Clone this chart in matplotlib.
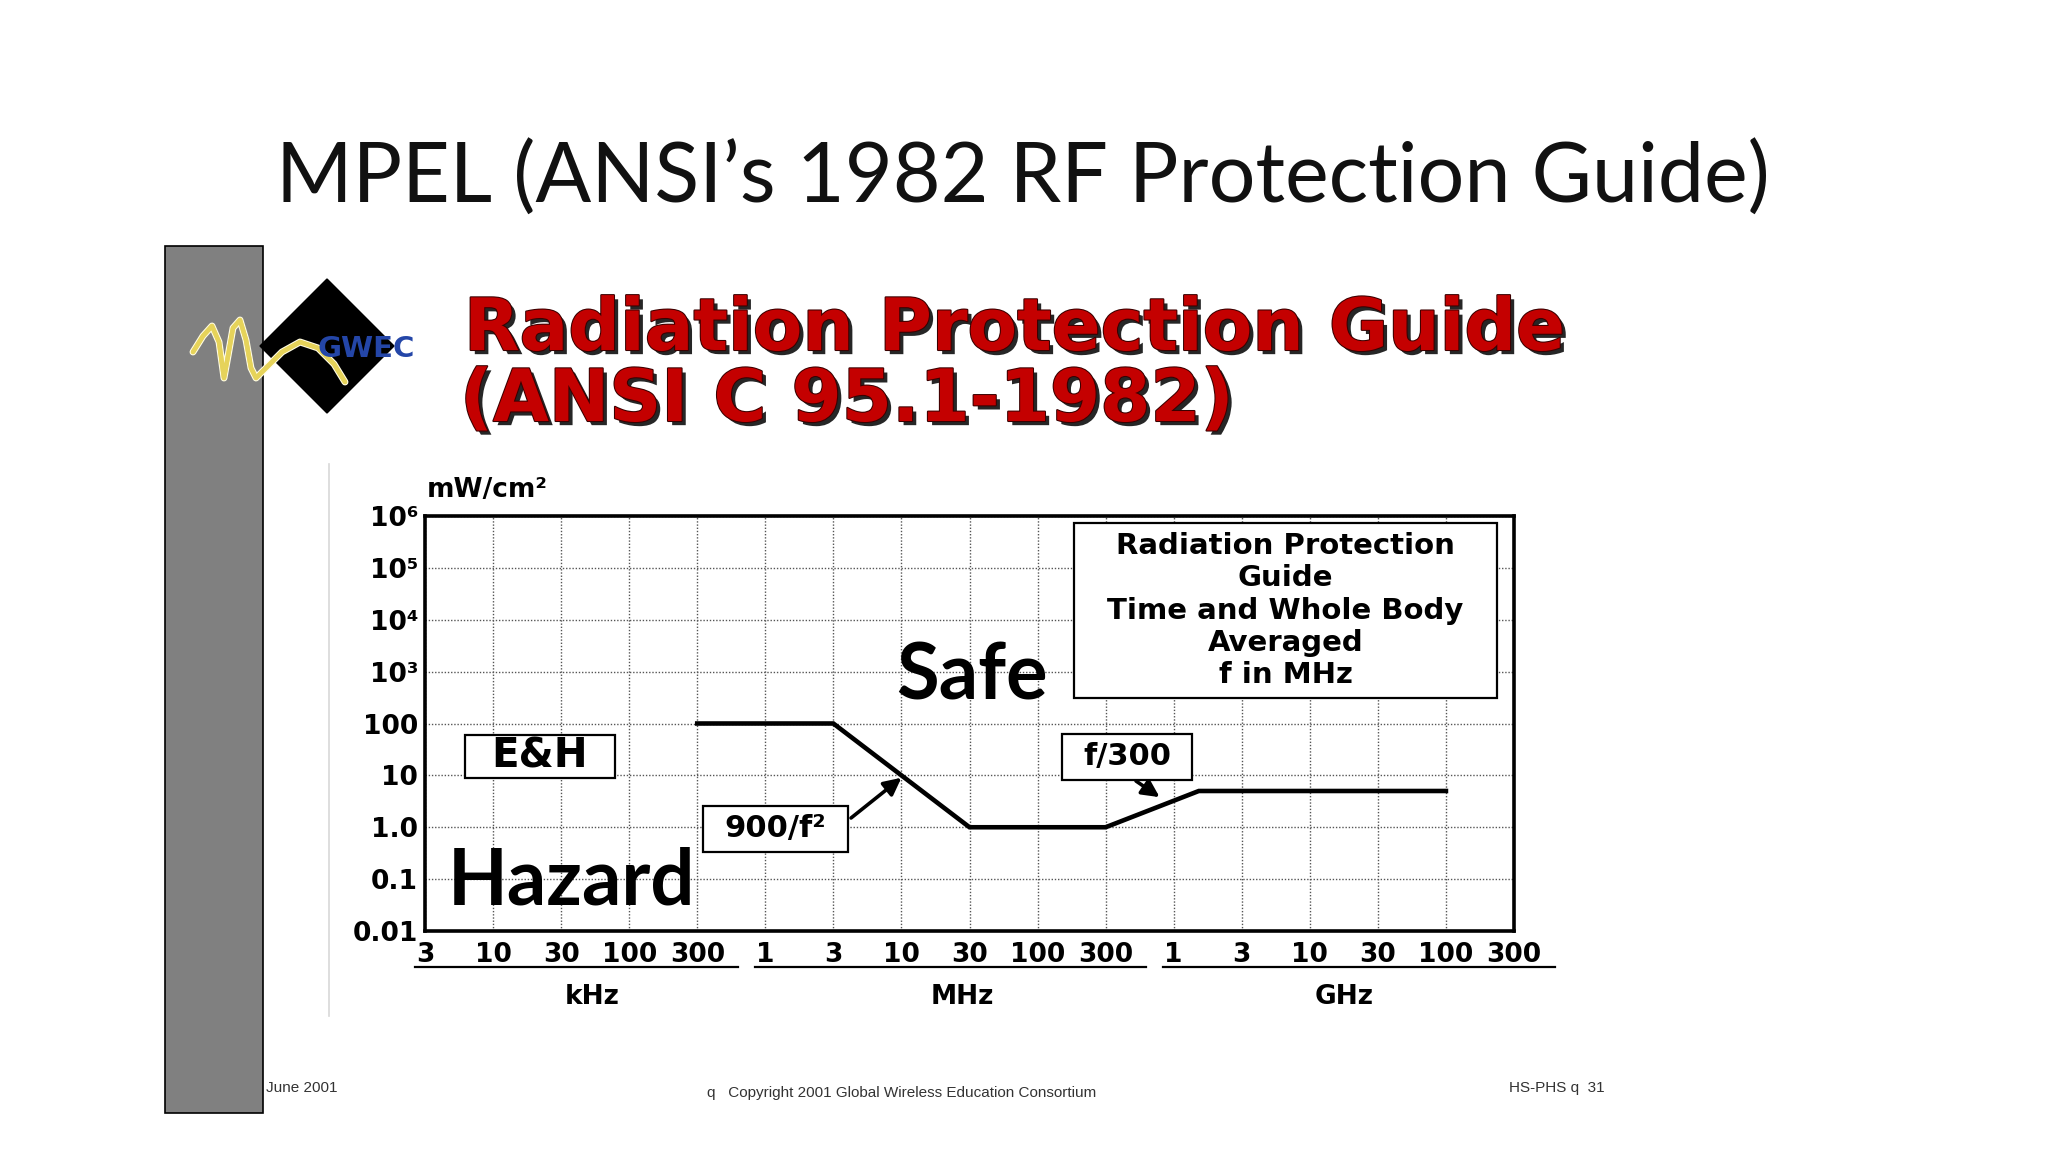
import numpy as np
import matplotlib.pyplot as plt
import matplotlib.patheffects as pe
from matplotlib.patches import Rectangle, Polygon

# DATA
tick_mhz = [0.003, 0.01, 0.03, 0.1, 0.3, 1, 3, 10, 30, 100, 300,
            1e3, 3e3, 1e4, 3e4, 1e5, 3e5]
tick_labels = ['3', '10', '30', '100', '300', '1', '3', '10', '30', '100', '300',
               '1', '3', '10', '30', '100', '300']
band_names = ['kHz', 'MHz', 'GHz']
band_first = [0, 5, 11]   # index of first tick in each band
band_last = [4, 10, 16]
# ANSI C95.1-1982 limit (f in MHz, power density in mW/cm2)
freq_mhz = [0.3, 3, 30, 300, 1500, 100000]
mpe_mw_cm2 = [100, 100, 1.0, 1.0, 5.0, 5.0]
y_ticks = [0.01, 0.1, 1, 10, 100, 1e3, 1e4, 1e5, 1e6]
y_labels = ['0.01', '0.1', '1.0', '10', '100', '10³', '10⁴', '10⁵', '10⁶']
legend_lines = ['Radiation Protection', 'Guide', 'Time and Whole Body',
                'Averaged', 'f in MHz']

W, H = 2048, 1152
def fx(px): return px / W
def fy(py): return 1 - py / H

# the chart spaces 3-10-30-100... evenly, so map log f onto tick index
logt = np.log10(tick_mhz)
idx = np.arange(len(tick_mhz), dtype=float)
ext_log = np.concatenate([[logt[0] - 2], logt, [logt[-1] + 2]])
ext_idx = np.concatenate([[-4], idx, [idx[-1] + 4]])
def fwd(f):
    return np.interp(np.log10(np.clip(np.asarray(f, float), 1e-12, None)), ext_log, ext_idx)
def inv(p):
    return 10 ** np.interp(np.asarray(p, float), ext_idx, ext_log)

BOLD = dict(family='DejaVu Sans', fontweight='bold')

fig = plt.figure(figsize=(20.48, 11.52), dpi=100)
fig.patch.set_facecolor('white')

# slide title
fig.text(0.4995, fy(203), 'MPEL (ANSI’s 1982 RF Protection Guide)', ha='center',
         va='baseline', fontsize=59.5, family='Lato', fontweight='normal', color='#111111')

# grey side bar
fig.patches.append(Rectangle((fx(165), fy(1113)), fx(263) - fx(165), fy(246) - fy(1113),
                             transform=fig.transFigure, facecolor='#808080',
                             edgecolor='black', lw=1.2))
# faint line left of chart
fig.add_artist(plt.Line2D([fx(329), fx(329)], [fy(464), fy(1016)], color='#d8d8d8', lw=1.2))

# logo
fig.patches.append(Polygon([(fx(327), fy(279)), (fx(394), fy(346)), (fx(327), fy(413)),
                            (fx(260), fy(346))], closed=True, transform=fig.transFigure,
                           facecolor='black', edgecolor='black'))
sq_x = [193, 203, 212, 219, 224, 228, 233, 240, 246, 251, 256, 266, 282, 300, 318, 334, 345]
sq_y = [352, 336, 326, 342, 378, 356, 328, 320, 340, 368, 378, 368, 352, 342, 348, 364, 382]
fig.add_artist(plt.Line2D([fx(v) for v in sq_x], [fy(v) for v in sq_y], color='#e6d35a',
                          lw=3.2, solid_capstyle='round',
                          path_effects=[pe.withStroke(linewidth=5, foreground='#fffbe0'), pe.Normal()]))
fig.text(fx(366), fy(349), 'GWEC', ha='center', va='center', fontsize=21,
         family='DejaVu Sans', fontweight='bold', color='#2446a8')

# red header
red_fx = [pe.withSimplePatchShadow(offset=(3, -3), shadow_rgbFace='black', alpha=0.85),
          pe.withStroke(linewidth=1.5, foreground='#3a0000')]
fig.text(fx(464), fy(350), 'Radiation Protection Guide', ha='left', va='baseline',
         fontsize=52, color='#c40000', path_effects=red_fx, **BOLD)
fig.text(fx(460), fy(421), '(ANSI C 95.1-1982)', ha='left', va='baseline',
         fontsize=52, color='#c40000', path_effects=red_fx, **BOLD)

# footer
foot = dict(fontsize=11, family='Liberation Sans', color='#333333', va='center')
fig.text(fx(266), fy(1088), 'June 2001', ha='left', **foot)
fig.text(fx(707), fy(1093), 'q   Copyright 2001 Global Wireless Education Consortium', ha='left', **foot)
fig.text(fx(1605), fy(1088), 'HS-PHS q  31', ha='right', **foot)

# chart
ax = fig.add_axes([fx(425), fy(931), fx(1514) - fx(425), fy(516) - fy(931)])
ax.set_xscale('function', functions=(fwd, inv))
ax.set_yscale('log')
ax.set_xlim(tick_mhz[0], tick_mhz[-1])
ax.set_ylim(y_ticks[0], y_ticks[-1])
ax.set_xticks(tick_mhz, tick_labels)
ax.set_yticks(y_ticks, y_labels)
ax.minorticks_off()
ax.tick_params(length=0, labelsize=19)
ax.tick_params(axis='x', pad=8)
ax.tick_params(axis='y', pad=5)
for lab in ax.get_xticklabels() + ax.get_yticklabels():
    lab.set_fontweight('bold')
ax.grid(True, ls=(0, (1, 1.3)), color='#555555', lw=1.0)
for s in ax.spines.values():
    s.set_linewidth(2.6)

ax.plot(freq_mhz, mpe_mw_cm2, color='black', lw=3.3, solid_joinstyle='miter', zorder=3)

# band underlines and names
xt = ax.get_xaxis_transform()
unit_pos = [2.45, 7.9, 13.5]
for name, i0, i1, up in zip(band_names, band_first, band_last, unit_pos):
    ax.plot([inv(i0 - 0.15), inv(i1 + 0.6)], [-0.086, -0.086], transform=xt,
            clip_on=False, color='black', lw=1.6)
    ax.text(inv(up), -0.159, name, transform=xt, ha='center', va='center',
            fontsize=19, **BOLD)

fig.text(fx(427), fy(490), 'mW/cm²', ha='left', va='center', fontsize=19, **BOLD)

def boxed(x0, x1, y0, y1, text, size, ls=1.2):
    ax.add_patch(Rectangle((x0, y0), x1 - x0, y1 - y0, transform=ax.transAxes,
                           facecolor='white', edgecolor='black', lw=1.6, zorder=4))
    ax.text((x0 + x1) / 2, (y0 + y1) / 2, text, transform=ax.transAxes, ha='center',
            va='center', fontsize=size, linespacing=ls, zorder=5, **BOLD)

boxed(0.0367, 0.1745, 0.3687, 0.4723, 'E&H', 29)
boxed(0.2553, 0.3884, 0.1904, 0.3012, '900/f²', 22)
boxed(0.585, 0.7043, 0.3639, 0.4747, 'f/300', 22)
boxed(0.596, 0.9844, 0.5614, 0.9831, '\n'.join(legend_lines), 21, ls=1.2)

arrow = dict(arrowstyle='-|>', color='black', lw=2.6, mutation_scale=26,
             shrinkA=0, shrinkB=0)
ax.annotate('', xy=(10, 900 / 10 ** 2), xycoords='data', xytext=(0.3912, 0.2723),
            textcoords='axes fraction', arrowprops=arrow, zorder=6)
ax.annotate('', xy=(780, 3.8), xycoords='data', xytext=(0.6529, 0.3614),
            textcoords='axes fraction', arrowprops=arrow, zorder=6)

ax.text(0.5023, 0.559, 'Safe', transform=ax.transAxes, ha='center', va='baseline',
        fontsize=56, family='Lato', fontweight='bold', zorder=6)
ax.text(0.0211, 0.0627, 'Hazard', transform=ax.transAxes, ha='left', va='baseline',
        fontsize=56, family='Lato', fontweight='bold', zorder=6)

fig.savefig('out.png', dpi=100)
